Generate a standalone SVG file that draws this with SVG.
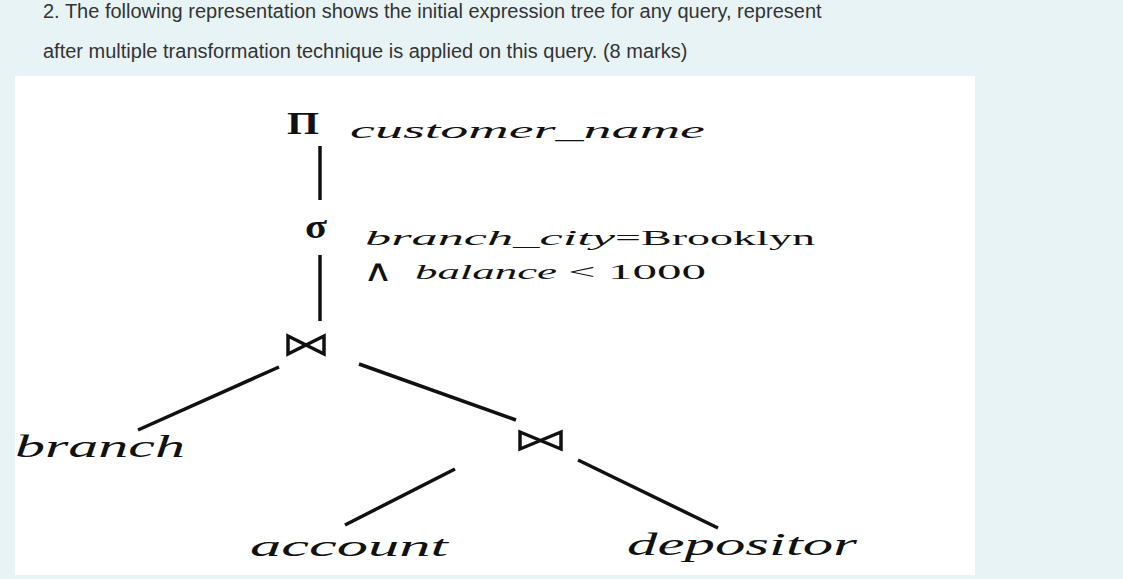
<svg xmlns="http://www.w3.org/2000/svg" width="1123" height="579" viewBox="0 0 1123 579">
<style>
.h{font-family:"Liberation Sans",Arial,sans-serif;font-size:20px;fill:#333}
.i{font-family:"Liberation Serif","DejaVu Serif",serif;font-style:italic;fill:#111}
.r{font-family:"Liberation Serif","DejaVu Serif",serif;fill:#111}
.l{stroke:#111;stroke-width:3.5;fill:none}
.b{fill:none;stroke:#111;stroke-width:3.5;stroke-linejoin:miter}
</style>
<rect width="1123" height="579" fill="#e8f3f5"/>
<text class="h" x="43" y="18">2. The following representation shows the initial expression tree for any query, represent</text>
<text class="h" x="43" y="58">after multiple transformation technique is applied on this query. (8 marks)</text>
<rect x="15" y="76" width="960" height="499" fill="#fff"/>
<g id="connectors">
<line class="l" x1="320" y1="146" x2="320" y2="200"/>
<line class="l" x1="320" y1="255" x2="320" y2="321"/>
<line class="l" x1="279" y1="367" x2="138" y2="430"/>
<line class="l" x1="359" y1="364" x2="516" y2="420"/>
<line class="l" x1="455" y1="469" x2="345" y2="525"/>
<line class="l" x1="578" y1="460" x2="718" y2="528"/>
</g>
<g id="project">
<text class="r" x="287" y="134" font-size="32" font-weight="bold" textLength="32" lengthAdjust="spacingAndGlyphs">Π</text>
<text class="i" x="350" y="138" font-size="24" textLength="355" lengthAdjust="spacingAndGlyphs">customer_name</text>
</g>
<g id="select">
<text class="r" x="305" y="238" font-size="34" font-weight="bold" textLength="22" lengthAdjust="spacingAndGlyphs">σ</text>
<text class="i" x="365" y="245" font-size="22" textLength="250" lengthAdjust="spacingAndGlyphs">branch_city</text>
<text class="r" x="615" y="245" font-size="22" textLength="200" lengthAdjust="spacingAndGlyphs">=Brooklyn</text>
<text class="r" x="363" y="281" font-size="30" textLength="30" lengthAdjust="spacingAndGlyphs">∧</text>
<text class="i" x="415" y="279" font-size="22" textLength="142" lengthAdjust="spacingAndGlyphs">balance</text>
<text class="r" x="568" y="279" font-size="22" textLength="138" lengthAdjust="spacingAndGlyphs">&lt; 1000</text>
</g>
<g id="join1"><path class="b" d="M288,336 L288,354 L324,336 L324,354 Z"/></g>
<g id="join2"><path class="b" d="M520,432 L520,449 L561,432 L561,449 Z"/></g>
<g id="branch"><text class="i" x="15" y="457" font-size="32" textLength="170" lengthAdjust="spacingAndGlyphs">branch</text></g>
<g id="account"><text class="i" x="250" y="556" font-size="30" textLength="198" lengthAdjust="spacingAndGlyphs">account</text></g>
<g id="depositor"><text class="i" x="627" y="555" font-size="32" textLength="230" lengthAdjust="spacingAndGlyphs">depositor</text></g>
</svg>
